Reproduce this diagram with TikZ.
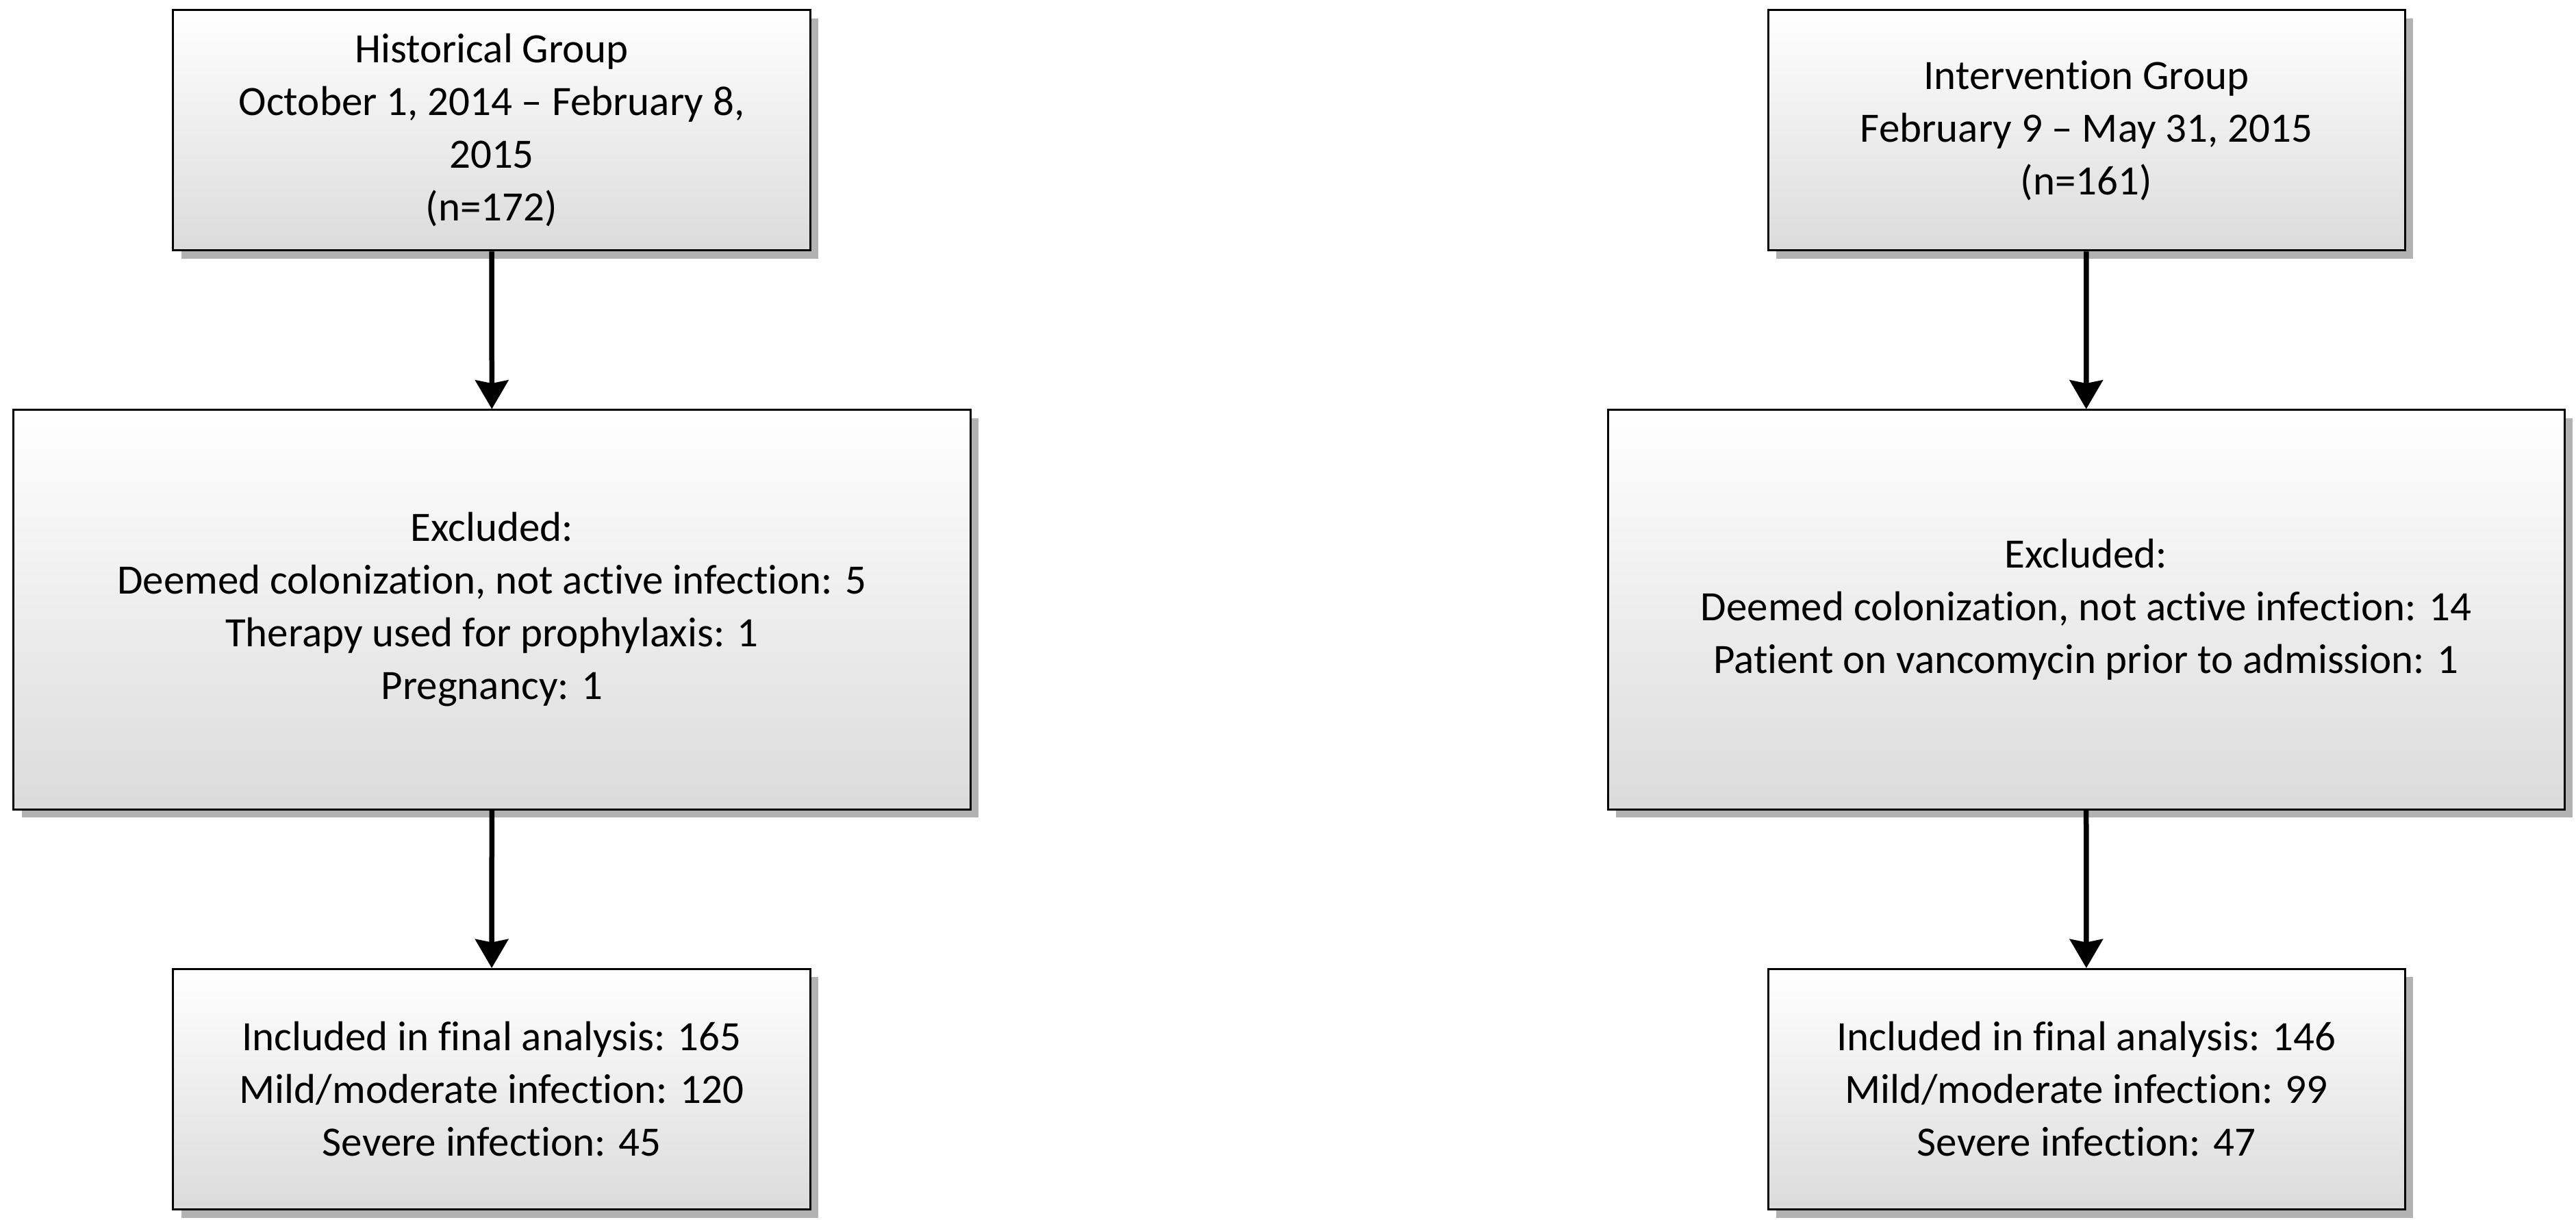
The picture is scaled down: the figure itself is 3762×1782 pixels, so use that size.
\documentclass[tikz,border=0pt]{standalone}
\usepackage{fontspec}
\setmainfont[Ligatures=NoCommon]{Carlito}
\usetikzlibrary{arrows.meta,shadows}
\begin{document}
\begin{tikzpicture}[x=0.2pt,y=-0.2pt,
  box/.style={draw=black, line width=0.6pt, top color=white, bottom color=black!14,
    align=center, inner sep=0pt, font=\fontsize{12.2}{15.4}\selectfont,
    drop shadow={shadow xshift=2.4pt, shadow yshift=-2.4pt, fill=black!30, opacity=1}},
  smallbox/.style={box, minimum width=186pt, minimum height=70.2pt},
  bigbox/.style={box, minimum width=279.4pt, minimum height=116.6pt},
  arr/.style={line width=1.5pt, -{Stealth[length=8.4pt, width=9.6pt, inset=0.9pt]}}]
\useasboundingbox (0,0) rectangle (3762,1782);
\node[smallbox] (h1) at (718,190.5) {Historical Group\\October 1, 2014 – February 8,\\2015\\(n=172)};
\node[bigbox] (e1) at (718.5,890.5) {Excluded:\\Deemed colonization, not active infection: 5\\Therapy used for prophylaxis: 1\\Pregnancy: 1};
\node[smallbox] (f1) at (718,1591) {Included in final analysis: 165\\Mild/moderate infection: 120\\Severe infection: 45};
\node[smallbox] (h2) at (3047,190.5) {Intervention Group\\February 9 – May 31, 2015\\(n=161)};
\node[bigbox] (e2) at (3046.5,890.5) {Excluded:\\Deemed colonization, not active infection: 14\\Patient on vancomycin prior to admission: 1};
\node[smallbox] (f2) at (3047,1591) {Included in final analysis: 146\\Mild/moderate infection: 99\\Severe infection: 47};
\draw[arr] (h1) -- (e1);
\draw[arr] (e1) -- (f1);
\draw[arr] (h2) -- (e2);
\draw[arr] (e2) -- (f2);
\end{tikzpicture}
\end{document}
